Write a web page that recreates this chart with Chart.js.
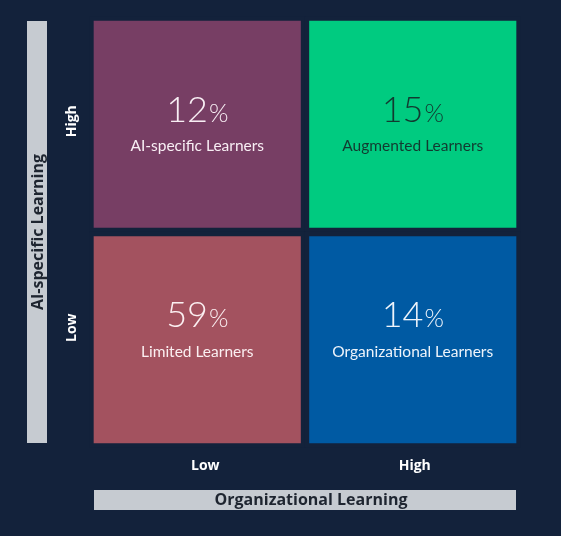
<!DOCTYPE html>
<html>
<head>
<meta charset="utf-8">
<script src="https://cdn.jsdelivr.net/npm/chart.js@4/dist/chart.umd.min.js"></script>
<style>
  html, body { margin: 0; padding: 0; background: #13223b; }
  #matrix { display: block; }
</style>
</head>
<body>
<canvas id="matrix" width="561" height="536"></canvas>
<script>
// categorias e valores
const orgLevels = ['Low', 'High'];
const aiLevels = ['Low', 'High'];
const lowAiShares = [59, 14];
const highAiShares = [12, 15];
const lowAiNames = ['Limited Learners', 'Organizational Learners'];
const highAiNames = ['AI-specific Learners', 'Augmented Learners'];
const cellUnits = [1, 1];
const xTitle = 'Organizational Learning';
const yTitle = 'AI-specific Learning';

const BG = '#13223b';
const BAR_GRAY = '#c6cbd1';
const FONT = 'Lato, "Open Sans", sans-serif';
const TITLE_FONT = '"Open Sans", sans-serif';

const lowAiColors = ['#a3525f', '#005aa3'];
const highAiColors = ['#773e64', '#00cb80'];
const lowAiText = ['#fbeff1', '#eef4fb'];
const highAiText = ['#f8eef4', '#123a30'];

const texts = [
    { shares: lowAiShares, names: lowAiNames, colors: lowAiText, shift: -10 },
    { shares: highAiShares, names: highAiNames, colors: highAiText, shift: 0 }
];

const matrixPlugin = {
    id: 'matrixLabels',
    beforeDraw(chart) {
        const ctx = chart.ctx;
        const x = chart.scales.x, y = chart.scales.y;
        ctx.save();
        ctx.fillStyle = BG;
        ctx.fillRect(0, 0, chart.width, chart.height);
        // barras cinzas dos títulos
        ctx.fillStyle = BAR_GRAY;
        ctx.fillRect(27, y.getPixelForValue(2) + 4.5, 20, y.getPixelForValue(0) - y.getPixelForValue(2) - 9);
        ctx.fillRect(x.left + 4.5, 490, x.right - x.left - 9, 20);
        ctx.restore();
    },
    afterDraw(chart) {
        const ctx = chart.ctx;
        const x = chart.scales.x, y = chart.scales.y;
        ctx.save();

        // textos das células
        texts.forEach((t, di) => {
            chart.getDatasetMeta(di).data.forEach((el, i) => {
                const cx = el.x;
                const cy = (el.y + el.base) / 2 + t.shift;
                const num = String(t.shares[i]);
                ctx.fillStyle = t.colors[i];
                ctx.textBaseline = 'alphabetic';
                ctx.font = '300 36px ' + FONT;
                const wNum = ctx.measureText(num).width;
                ctx.font = '300 25px ' + FONT;
                const wPct = ctx.measureText('%').width;
                const startX = cx - (wNum + wPct + 1) / 2;
                ctx.textAlign = 'left';
                ctx.font = '300 36px ' + FONT;
                ctx.fillText(num, startX, cy - 2.5);
                ctx.font = '300 25px ' + FONT;
                ctx.fillText('%', startX + wNum + 1, cy - 2.5);
                ctx.textAlign = 'center';
                ctx.font = '400 15.5px ' + FONT;
                ctx.fillText(t.names[i], cx, cy + 27);
            });
        });

        // rótulos dos eixos
        ctx.fillStyle = '#ffffff';
        ctx.font = 'bold 14px ' + TITLE_FONT;
        ctx.textAlign = 'center';
        ctx.textBaseline = 'middle';
        orgLevels.forEach((lab, i) => {
            ctx.fillText(lab, x.getPixelForValue(i) + (i === 0 ? 8 : 2), 466);
        });
        aiLevels.forEach((lab, i) => {
            ctx.save();
            ctx.translate(72, y.getPixelForValue(i + 0.5) - (i === 0 ? 12 : 3));
            ctx.rotate(-Math.PI / 2);
            ctx.fillText(lab, 0, 0);
            ctx.restore();
        });

        // títulos
        ctx.fillStyle = '#1e2530';
        ctx.font = 'bold 16px ' + TITLE_FONT;
        ctx.fillText(xTitle, (x.left + x.right) / 2 + 6, 500);
        ctx.save();
        ctx.translate(37, (y.top + y.bottom) / 2);
        ctx.rotate(-Math.PI / 2);
        ctx.fillText(yTitle, 0, 1);
        ctx.restore();

        ctx.restore();
    }
};

const ctx = document.getElementById('matrix').getContext('2d');
const matrix = new Chart(ctx, {
    type: 'bar',
    data: {
        labels: orgLevels,
        datasets: [
            {
                label: aiLevels[0],
                data: cellUnits,
                backgroundColor: lowAiColors,
                borderColor: BG,
                borderWidth: 4.5,
                borderSkipped: false
            },
            {
                label: aiLevels[1],
                data: cellUnits,
                backgroundColor: highAiColors,
                borderColor: BG,
                borderWidth: 4.5,
                borderSkipped: false
            }
        ]
    },
    options: {
        responsive: false,
        animation: false,
        devicePixelRatio: 1,
        layout: {
            padding: { left: 89.5, right: 40.5, top: 16.5, bottom: 88.5 }
        },
        datasets: {
            bar: { categoryPercentage: 1, barPercentage: 1 }
        },
        scales: {
            x: { stacked: true, display: false },
            y: { stacked: true, display: false, min: 0, max: 2 }
        },
        plugins: {
            legend: { display: false },
            tooltip: { enabled: false }
        }
    },
    plugins: [matrixPlugin]
});
</script>
</body>
</html>
